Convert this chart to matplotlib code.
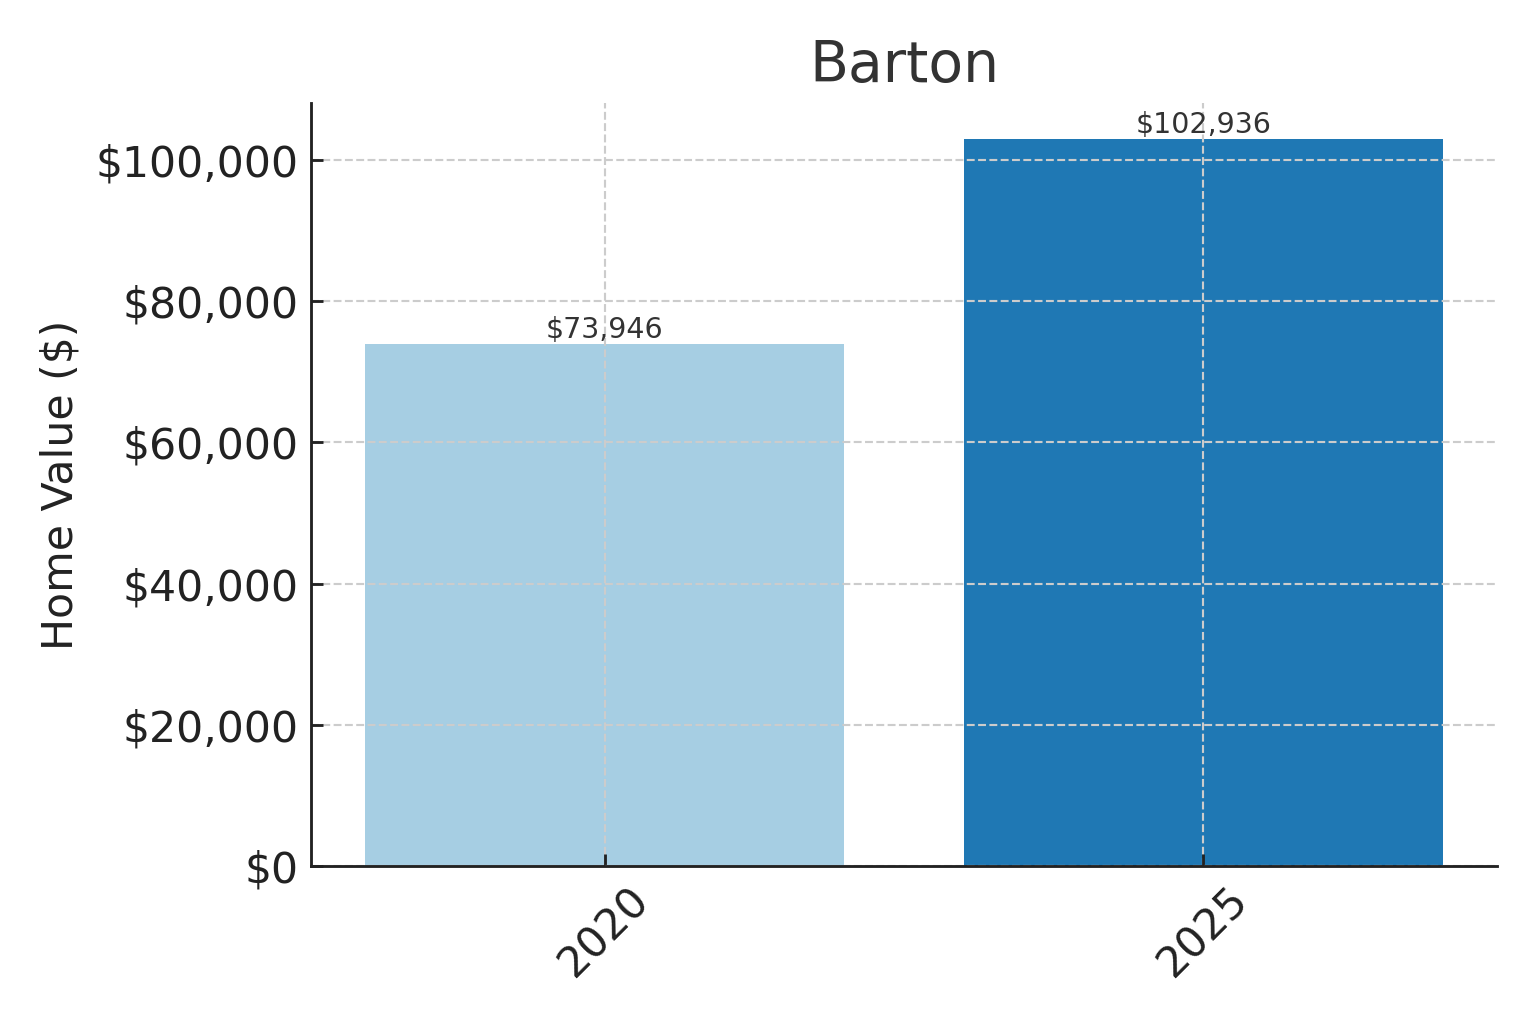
import matplotlib.pyplot as plt
from matplotlib.ticker import FuncFormatter

# donnees
years = ["2020", "2025"]
values = [73946, 102936]
bar_colors = ["#a6cee3", "#1f78b4"]
title = "Barton"
ylabel = "Home Value ($)"

fig, ax = plt.subplots(figsize=(6, 4), dpi=256)
fig.subplots_adjust(left=0.2025, right=0.9746, top=0.8994, bottom=0.1543)

bars = ax.bar(years, values, color=bar_colors, width=0.8, zorder=2)

for b, v in zip(bars, values):
    ax.text(b.get_x() + b.get_width() / 2, v, f"${v:,.0f}",
            ha="center", va="bottom", fontsize=8, color="#333333")

ax.set_title(title, fontsize=16, color="#333333")
ax.set_ylabel(ylabel, fontsize=12, color="#222222")
ax.yaxis.set_major_formatter(FuncFormatter(lambda x, p: f"${x:,.0f}"))
ax.tick_params(axis="both", direction="in")
ax.tick_params(axis="y", labelsize=12, colors="#222222")
ax.tick_params(axis="x", labelsize=12, labelrotation=45, colors="#222222")
ax.grid(True, linestyle="--", color="#cccccc", linewidth=0.6, zorder=3)
ax.set_axisbelow(False)

ax.spines["top"].set_visible(False)
ax.spines["right"].set_visible(False)
for s in ("left", "bottom"):
    ax.spines[s].set_zorder(5)
    ax.spines[s].set_color("#222222")

fig.savefig("out.png", dpi=256)
